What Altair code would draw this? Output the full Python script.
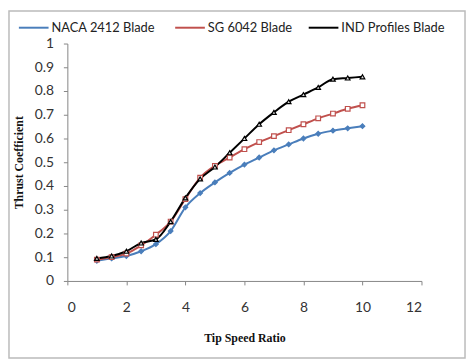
import altair as alt
import pandas as pd

tsr = [1, 1.5, 2, 2.5, 3, 3.5, 4, 4.5, 5, 5.5, 6, 6.5, 7, 7.5, 8, 8.5, 9, 9.5, 10]
naca = [0.085, 0.095, 0.105, 0.125, 0.155, 0.21, 0.31, 0.37, 0.415, 0.455, 0.49,
        0.52, 0.55, 0.575, 0.60, 0.62, 0.633, 0.643, 0.652]
sg = [0.09, 0.10, 0.115, 0.15, 0.195, 0.25, 0.345, 0.435, 0.485, 0.52, 0.555,
      0.585, 0.61, 0.635, 0.66, 0.685, 0.705, 0.725, 0.74]
ind = [0.095, 0.105, 0.125, 0.16, 0.175, 0.25, 0.35, 0.43, 0.48, 0.54, 0.60,
       0.66, 0.71, 0.755, 0.785, 0.815, 0.85, 0.855, 0.86]

series = ["NACA 2412  Blade", "SG 6042 Blade", "IND Profiles Blade"]
colors = ["#4a7ebb", "#c0504d", "#000000"]
fills = ["#4a7ebb", "#ffffff", "#dddddd"]
shapes = ["diamond", "square", "triangle-up"]
x_ticks = [0, 2, 4, 6, 8, 10, 12]
y_ticks = [0, 0.1, 0.2, 0.3, 0.4, 0.5, 0.6, 0.7, 0.8, 0.9, 1]

rows = []
for name, vals in zip(series, [naca, sg, ind]):
    for x, y in zip(tsr, vals):
        rows.append({"tsr": x, "ct": y, "series": name})
df = pd.DataFrame(rows)

xaxis = alt.Axis(values=x_ticks, title="Tip Speed Ratio", grid=False, tickSize=4,
                 labelPadding=16, titlePadding=18, labelOverlap=False)
yaxis = alt.Axis(values=y_ticks, format="~g", title="Thrust Coefficient", grid=False,
                 tickSize=4, labelPadding=10, titlePadding=9, labelOverlap=False,
                 tickCount=11)
xenc = alt.X("tsr:Q", scale=alt.Scale(domain=[0, 12]), axis=xaxis)
yenc = alt.Y("ct:Q", scale=alt.Scale(domain=[0, 1]), axis=yaxis)

lines = alt.Chart(df).mark_line(interpolate="monotone", strokeWidth=2).encode(
    x=xenc, y=yenc,
    color=alt.Color("series:N", scale=alt.Scale(domain=series, range=colors),
                    sort=series,
                    legend=alt.Legend(title=None, orient="none", direction="horizontal",
                                      legendX=-50, legendY=-32, columns=3,
                                      symbolType="stroke", symbolSize=900,
                                      symbolStrokeWidth=2, columnPadding=12,
                                      labelOffset=2, labelFont="Lato",
                                      labelFontSize=13, labelColor="#222222",
                                      labelLimit=200)),
)

points = alt.Chart(df).mark_point(filled=False, strokeWidth=1.2, opacity=1).encode(
    x=xenc, y=yenc,
    shape=alt.Shape("series:N", scale=alt.Scale(domain=series, range=shapes), legend=None),
    stroke=alt.Stroke("series:N", scale=alt.Scale(domain=series, range=colors), legend=None),
    fill=alt.Fill("series:N", scale=alt.Scale(domain=series, range=fills), legend=None),
    size=alt.value(22),
)

frame = alt.Chart(pd.DataFrame({"a": [0]})).mark_rect(
    fill=None, stroke="#bbbbbb", strokeWidth=1.5
).encode(x=alt.value(-59), x2=alt.value(402), y=alt.value(-33), y2=alt.value(318))

chart = alt.layer(frame, lines, points).resolve_scale(
    color="independent", stroke="independent", fill="independent", shape="independent"
).properties(
    width=358, height=240,
    padding={"left": 60, "top": 34, "right": 45, "bottom": 79},
    autosize=alt.AutoSizeParams(type="none"),
    background="white",
).configure_view(stroke=None).configure_axis(
    domainColor="#868686", tickColor="#868686", domainWidth=1,
    labelFont="Lato", labelFontSize=14, labelColor="#333333",
    titleFont="Liberation Serif", titleFontSize=12, titleFontWeight="bold",
    titleColor="#111111",
)

chart.save("out.html", embed_options={"renderer": "svg", "actions": False})
